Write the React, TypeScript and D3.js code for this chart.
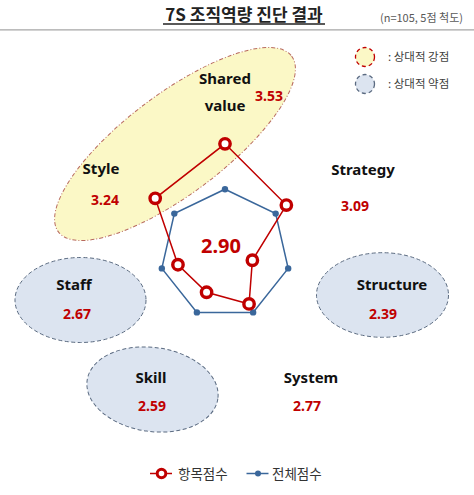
import React from "react";
import * as d3 from "d3";

const categories = ["Shared value", "Strategy", "Structure", "System", "Skill", "Staff", "Style"];
const itemScores = [3.53, 3.09, 2.39, 2.77, 2.59, 2.67, 3.24];
const overallScores = [2.9, 2.9, 2.9, 2.9, 2.9, 2.9, 2.9];
const overallAverage = 2.9;
const titleText = "7S 조직역량 진단 결과";
const subtitleText = "(n=105, 5점 척도)";
const legendTopLabels = [": 상대적 강점", ": 상대적 약점"];
const legendBottomLabels = ["항목점수", "전체점수"];

const W = 474;
const H = 495;
const CX = 225;
const CY = 254;
const RED = "#C00000";
const BLUE = "#3A679B";
const FONT = "'Noto Sans', 'Noto Sans CJK KR', sans-serif";
const KFONT = "'Noto Sans CJK KR', 'Noto Sans', sans-serif";

// label layout (name lines and value label positions)
const labelLayout = [
  { lines: [[225, 84], [225, 110.7]], value: [269, 100.7] },
  { lines: [[363, 175]], value: [355, 210.5] },
  { lines: [[392, 290]], value: [383, 319] },
  { lines: [[311, 383]], value: [307, 411] },
  { lines: [[151, 383]], value: [152, 411] },
  { lines: [[74, 290]], value: [77, 319] },
  { lines: [[101, 174]], value: [105, 205] },
];
const nameLines = [["Shared", "value"], ["Strategy"], ["Structure"], ["System"], ["Skill"], ["Staff"], ["Style"]];

const strongEllipse = { cx: 175, cy: 144, rx: 146, ry: 50, rot: -37 };
const weakEllipses = [
  { cx: 80.5, cy: 300, rx: 65.5, ry: 42.5, rot: 0 },
  { cx: 382.5, cy: 295, rx: 66, ry: 42.3, rot: 0 },
  { cx: 152.5, cy: 389.5, rx: 66, ry: 42, rot: 8 },
];

export default function App() {
  const r = d3.scaleLinear().domain([2, 4]).range([0, 144]);
  const angle = d3
    .scaleLinear()
    .domain([0, categories.length])
    .range([0, 2 * Math.PI]);

  const pt = (i: number, v: number): [number, number] => {
    const a = angle(i);
    return [CX + r(v) * Math.sin(a), CY - r(v) * Math.cos(a)];
  };

  const lineGen = d3.line<[number, number]>().curve(d3.curveLinearClosed);
  const itemPts = itemScores.map((v, i) => pt(i, v));
  const overallPts = overallScores.map((v, i) => pt(i, v));

  return (
    <div style={{ position: "absolute", left: 0, top: 0 }}>
      <svg width={W} height={H} style={{ display: "block", background: "#fff" }}>
        {/* title */}
        <text x={244} y={20.5} textAnchor="middle" fontFamily={KFONT} fontWeight={700} fontSize={17} fill="#222">
          {titleText}
        </text>
        <line x1={163} x2={325} y1={24} y2={24} stroke="#222" strokeWidth={1.3} />
        <text x={463} y={21.5} textAnchor="end" fontFamily={KFONT} fontSize={11} fill="#595959">
          {subtitleText}
        </text>
        <line x1={0} x2={W} y1={29.8} y2={29.8} stroke="#A6A6A6" strokeWidth={1.2} />

        {/* strong ellipse */}
        <ellipse
          cx={strongEllipse.cx}
          cy={strongEllipse.cy}
          rx={strongEllipse.rx}
          ry={strongEllipse.ry}
          transform={`rotate(${strongEllipse.rot} ${strongEllipse.cx} ${strongEllipse.cy})`}
          fill="#FBF8C6"
          stroke="#B86A5E"
          strokeWidth={1}
          strokeDasharray="4 2 1 2"
        />
        {weakEllipses.map((e, i) => (
          <ellipse
            key={i}
            cx={e.cx}
            cy={e.cy}
            rx={e.rx}
            ry={e.ry}
            transform={`rotate(${e.rot} ${e.cx} ${e.cy})`}
            fill="#DCE4F0"
            stroke="#5A6A80"
            strokeWidth={1}
            strokeDasharray="4 2.5"
          />
        ))}

        {/* top-right legend */}
        <circle cx={365} cy={57} r={9.5} fill="#FBF8C6" stroke={RED} strokeWidth={1.3} strokeDasharray="4 3" />
        <circle cx={365} cy={84} r={9.5} fill="#DCE4F0" stroke="#5A6A80" strokeWidth={1.3} strokeDasharray="4 3" />
        {legendTopLabels.map((t, i) => (
          <text key={t} x={388} y={61 + i * 27} fontFamily={KFONT} fontSize={11.5} fill="#404040">
            {t}
          </text>
        ))}

        {/* radar lines */}
        <path d={lineGen(overallPts) || ""} fill="none" stroke={BLUE} strokeWidth={1.5} />
        <path d={lineGen(itemPts) || ""} fill="none" stroke={RED} strokeWidth={1.5} />
        {overallPts.map((p, i) => (
          <circle key={"b" + i} cx={p[0]} cy={p[1]} r={3.2} fill={BLUE} />
        ))}
        {itemPts.map((p, i) => (
          <circle key={"r" + i} cx={p[0]} cy={p[1]} r={5.2} fill="#fff" stroke={RED} strokeWidth={3.4} />
        ))}

        {/* center average */}
        <text x={221} y={252.5} textAnchor="middle" fontFamily={FONT} fontWeight={700} fontSize={20} fill={RED}>
          {overallAverage.toFixed(2)}
        </text>

        {/* category labels */}
        {categories.map((c, i) => (
          <g key={c}>
            {nameLines[i].map((ln, j) => (
              <text
                key={j}
                x={labelLayout[i].lines[j][0]}
                y={labelLayout[i].lines[j][1]}
                textAnchor="middle"
                fontFamily={FONT}
                fontWeight={700}
                fontSize={15}
                fill="#111"
              >
                {ln}
              </text>
            ))}
            <text
              x={labelLayout[i].value[0]}
              y={labelLayout[i].value[1]}
              textAnchor="middle"
              fontFamily={FONT}
              fontWeight={700}
              fontSize={14}
              fill={RED}
            >
              {itemScores[i].toFixed(2)}
            </text>
          </g>
        ))}

        {/* bottom legend */}
        <line x1={150} x2={172} y1={473.5} y2={473.5} stroke={RED} strokeWidth={1.5} />
        <circle cx={161.5} cy={473.5} r={4.3} fill="#fff" stroke={RED} strokeWidth={3} />
        <text x={178} y={478.5} fontFamily={KFONT} fontSize={13.5} fill="#333">
          {legendBottomLabels[0]}
        </text>
        <line x1={246.5} x2={268.5} y1={473.5} y2={473.5} stroke={BLUE} strokeWidth={1.5} />
        <circle cx={258} cy={473.5} r={3} fill={BLUE} />
        <text x={272} y={478.5} fontFamily={KFONT} fontSize={13.5} fill="#333">
          {legendBottomLabels[1]}
        </text>
      </svg>
    </div>
  );
}
